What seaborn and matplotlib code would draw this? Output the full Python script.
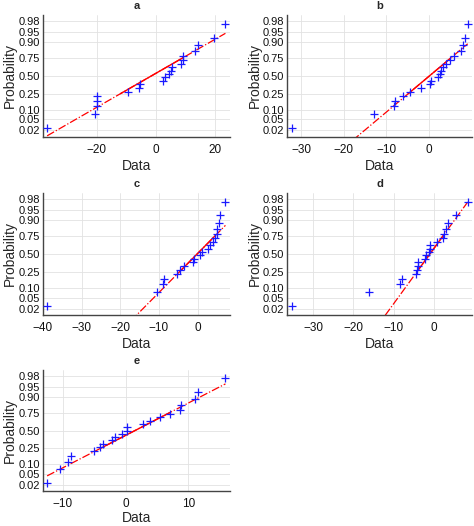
import numpy as np
import pandas as pd
import matplotlib
matplotlib.use('Agg')
import matplotlib.pyplot as plt
import seaborn as sns
from statistics import NormalDist

# sample values
data_a = [-36.8, -20.6, -20.0, -20.0, -20.0, -9.3, -5.6, -5.5, 2.4, 3.0,
          4.4, 5.0, 5.6, 8.6, 9.0, 9.3, 13.1, 14.1, 19.5, 23.5]
data_b = [-32.3, -12.9, -8.1, -8.0, -6.0, -4.4, -1.8, 0.4, 0.6, 2.3,
          2.7, 3.0, 3.4, 4.2, 5.0, 6.0, 7.6, 8.1, 8.5, 9.2]
data_c = [-38.9, -10.6, -9.0, -8.8, -5.2, -4.5, -3.6, -1.2, -0.8, 0.7,
          1.1, 2.6, 3.1, 4.0, 4.4, 4.9, 5.0, 5.5, 5.9, 7.2]
data_d = [-35.4, -16.0, -8.3, -7.9, -4.5, -4.05, -3.9, -3.8, -2.15, -1.8,
          -1.2, -1.0, -0.9, 0.9, 2.3, 2.55, 3.2, 3.6, 5.7, 8.5]
data_e = [-12.5, -10.5, -9.1, -8.7, -5.1, -4.0, -3.6, -2.15, -1.7, -0.54,
          0.16, 0.27, 2.7, 3.9, 5.5, 7.0, 8.6, 8.8, 11.1, 11.6, 15.9]

panel_titles = ['a', 'b', 'c', 'd', 'e']
ticks_a = [-20, 0, 20]
ticks_b = [-30, -20, -10, 0]
ticks_c = [-40, -30, -20, -10, 0]
ticks_d = [-30, -20, -10, 0]
ticks_e = [-10, 0, 10]
prob_ticks = [0.02, 0.05, 0.10, 0.25, 0.50, 0.75, 0.90, 0.95, 0.98]

nd = NormalDist()


def normplot(ax, values, title, xticks, xlabel_pad=2.5):
    '''
    MATLAB-like normal probability plot on a normal quantile y scale.
    '''
    x = np.sort(np.array(values, dtype=float))
    n = len(x)
    p = (np.arange(1, n + 1) - 0.5) / n
    z = np.array([nd.inv_cdf(v) for v in p])
    df = pd.DataFrame({'Data': x, 'z': z})

    # reference line through the quartiles
    q1, q3 = np.percentile(x, [25, 75])
    z1, z3 = nd.inv_cdf(0.25), nd.inv_cdf(0.75)
    slope = (z3 - z1) / (q3 - q1)
    ext_x = np.array([x.min(), x.max()])
    ext_z = z1 + slope * (ext_x - q1)

    sns.lineplot(x=ext_x, y=ext_z, color='#ff0000', linestyle='-.',
                 linewidth=0.9, ax=ax, zorder=2)
    sns.lineplot(x=[q1, q3], y=[z1, z3], color='#ff0000', linestyle='-',
                 linewidth=1.0, ax=ax, zorder=2)
    sns.scatterplot(data=df, x='Data', y='z', marker='+', s=36,
                    color='#1a1aff', linewidth=0.9, ax=ax, zorder=3)

    span = x.max() - x.min()
    ax.set_xlim(x.min() - 0.025 * span, x.max() + 0.025 * span)
    ax.set_ylim(-2.3, 2.3)
    ax.set_xticks(xticks)
    ax.set_xticklabels([str(t).replace('-', '\u2212') for t in xticks])
    ax.set_yticks([nd.inv_cdf(v) for v in prob_ticks])
    ax.set_yticklabels(['%.2f' % v for v in prob_ticks])
    ax.set_title(title, fontsize=8, fontweight='bold', pad=4)
    ax.set_xlabel('Data', fontsize=10, labelpad=xlabel_pad)
    ax.set_ylabel('Probability', fontsize=10, labelpad=1)
    ax.tick_params(axis='x', labelsize=8.5, direction='in', length=2,
                   width=0.6, pad=5, colors='#111111')
    ax.tick_params(axis='y', labelsize=8, direction='in', length=2,
                   width=0.6, pad=2, colors='#111111')
    ax.grid(True, color='#e2e2e2', linewidth=0.6)
    for side in ['top', 'right']:
        ax.spines[side].set_visible(False)
    for side in ['left', 'bottom']:
        ax.spines[side].set_color('#444444')
        ax.spines[side].set_linewidth(1.0)


sns.set_style('whitegrid')
plt.rcParams['font.family'] = ['Liberation Sans', 'DejaVu Sans']

fig = plt.figure(figsize=(4.74, 5.26), dpi=100)

# axes boxes in figure fractions: left, bottom, width, height
boxes = [
    [0.090, 0.740, 0.395, 0.232],
    [0.606, 0.740, 0.390, 0.232],
    [0.090, 0.401, 0.395, 0.233],
    [0.606, 0.401, 0.390, 0.233],
    [0.090, 0.066, 0.395, 0.231],
]
all_data = [data_a, data_b, data_c, data_d, data_e]
all_ticks = [ticks_a, ticks_b, ticks_c, ticks_d, ticks_e]
label_pads = [2.5, 2.5, 2.5, 2.5, 0.5]

for box, vals, title, xt, lp in zip(boxes, all_data, panel_titles,
                                    all_ticks, label_pads):
    ax = fig.add_axes(box)
    normplot(ax, vals, title, xt, xlabel_pad=lp)

fig.savefig('out.png', dpi=100, facecolor='white')
